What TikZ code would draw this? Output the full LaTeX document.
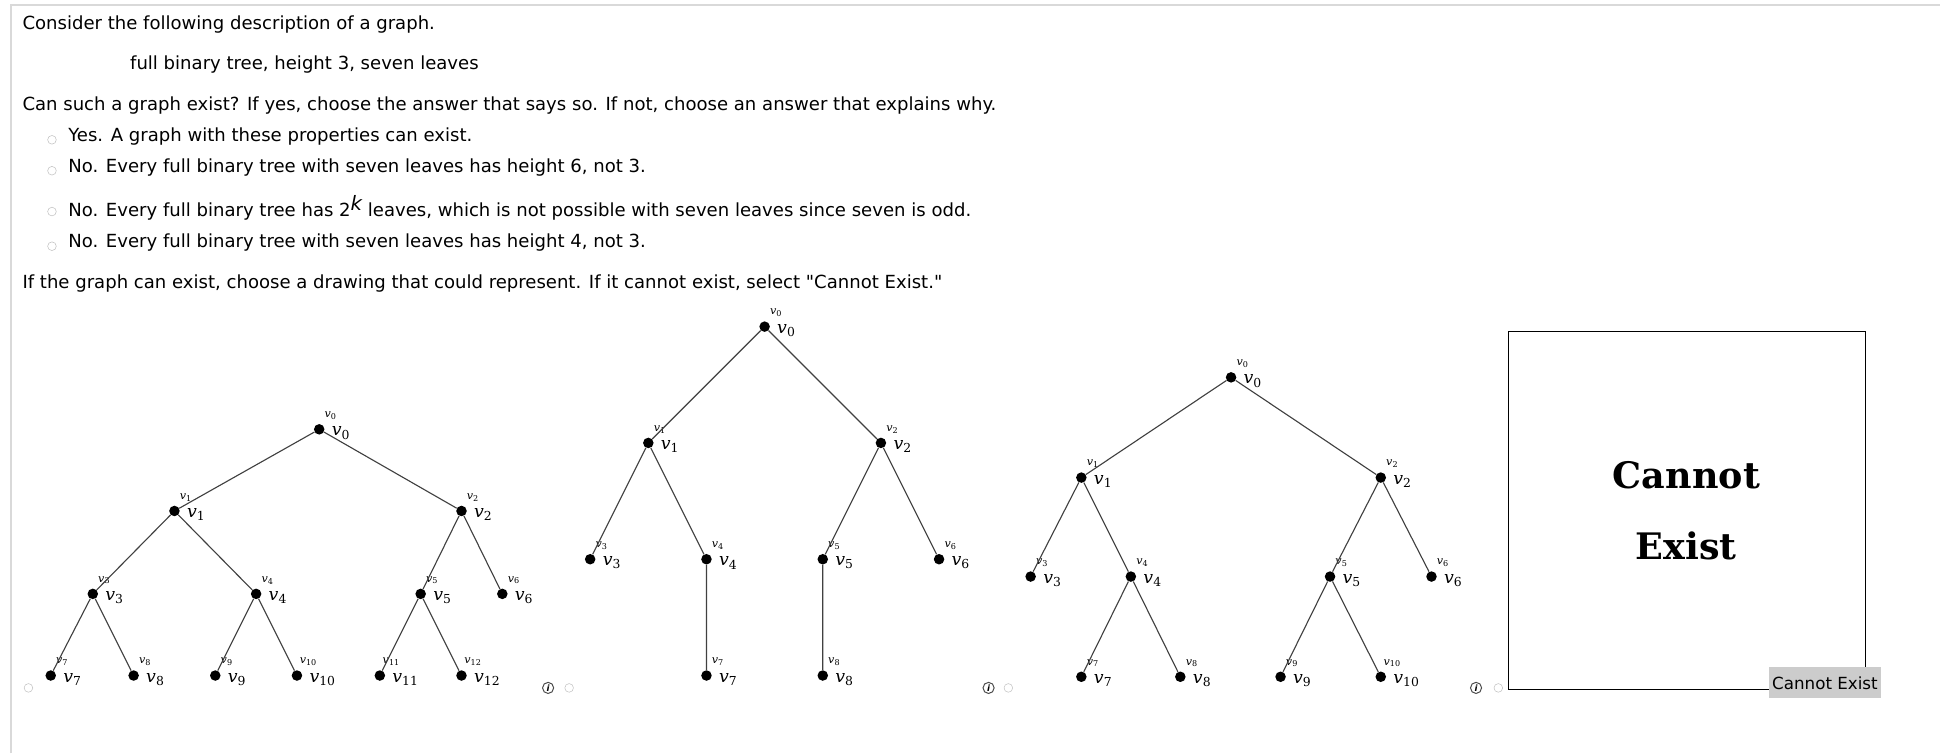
\documentclass[tikz,border=0pt]{standalone}
\usepackage{fontspec}
\setmainfont{DejaVu Sans}[Ligatures=TeXOff]
\newfontfamily\serifb{DejaVu Serif}
\begin{document}
\begin{tikzpicture}[x=1pt,y=-1pt,
  txt/.style={anchor=west,inner sep=0pt,font=\fontsize{14.6}{16}\selectfont},
  dot/.style={circle,fill=black,inner sep=0pt,minimum size=8.5pt},
  edge/.style={draw=black!75,line width=0.9pt},
  radio/.style={circle,draw=black!25,inner sep=0pt,minimum size=7pt},
  info/.style={circle,draw=black!70,line width=0.8pt,inner sep=0pt,minimum size=9pt,font=\fontsize{7}{7}\selectfont\itshape\bfseries}]
\useasboundingbox (0,0) rectangle (1568,609);
\fill[white] (0,0) rectangle (1568,609);
\draw[black!15,line width=1.5pt] (9,609) -- (9,4) -- (1568,4);
\node[txt] (t1) at (18,20) {Consider the following description of a graph.};
\node[txt] (t2) at (105,52) {full binary tree, height 3, seven leaves};
\node[txt] (t3) at (18,85) {Can such a graph exist? If yes, choose the answer that says so. If not, choose an answer that explains why.};
\node[radio] (r1) at (42,113) {}; \node[txt] (o1) at (55,110) {Yes. A graph with these properties can exist.};
\node[radio] (r2) at (42,138) {}; \node[txt] (o2) at (55,135) {No. Every full binary tree with seven leaves has height 6, not 3.};
\node[radio] (r3) at (42,171) {}; \node[txt] (o3) at (55,168) {No. Every full binary tree has 2\raisebox{0.6ex}{\fontsize{16}{16}\selectfont\itshape k} leaves, which is not possible with seven leaves since seven is odd.};
\node[radio] (r4) at (42,199) {}; \node[txt] (o4) at (55,196) {No. Every full binary tree with seven leaves has height 4, not 3.};
\node[txt] (t4) at (18,229) {If the graph can exist, choose a drawing that could represent. If it cannot exist, select "Cannot Exist."};
\newcommand{\vx}[3]{\node[dot] (#1) at (#2) {};
  \node[anchor=west,inner sep=0pt,font=\serifb\fontsize{14}{14}\selectfont] at ([xshift=10pt,yshift=-3pt]#1.center) {\textit{v}\raisebox{-0.35ex}{\fontsize{10}{10}\selectfont #3}};
  \node[inner sep=0pt,font=\serifb\fontsize{9}{9}\selectfont] at ([xshift=9pt,yshift=11pt]#1.center) {\textit{v}\raisebox{-0.3ex}{\fontsize{6.5}{6.5}\selectfont #3}};}
% tree 1
\vx{a0}{258,347}{0}\vx{a1}{141,413}{1}\vx{a2}{373,413}{2}
\vx{a3}{75,480}{3}\vx{a4}{207,480}{4}\vx{a5}{340,480}{5}\vx{a6}{406,480}{6}
\vx{a7}{41,546}{7}\vx{a8}{108,546}{8}\vx{a9}{174,546}{9}\vx{a10}{240,546}{10}\vx{a11}{307,546}{11}\vx{a12}{373,546}{12}
\draw[edge] (a0)--(a1) (a0)--(a2) (a1)--(a3) (a1)--(a4) (a2)--(a5) (a2)--(a6)
  (a3)--(a7) (a3)--(a8) (a4)--(a9) (a4)--(a10) (a5)--(a11) (a5)--(a12);
\node[radio] (ra) at (23,556) {};
% tree 2
\vx{b0}{618,264}{0}\vx{b1}{524,358}{1}\vx{b2}{712,358}{2}
\vx{b3}{477,452}{3}\vx{b4}{571,452}{4}\vx{b5}{665,452}{5}\vx{b6}{759,452}{6}
\vx{b7}{571,546}{7}\vx{b8}{665,546}{8}
\draw[edge] (b0)--(b1) (b0)--(b2) (b1)--(b3) (b1)--(b4) (b2)--(b5) (b2)--(b6) (b4)--(b7) (b5)--(b8);
\node[info] (ia) at (443,556) {i}; \node[radio] (rb) at (460,556) {};
% tree 3
\vx{c0}{995,305}{0}\vx{c1}{874,386}{1}\vx{c2}{1116,386}{2}
\vx{c3}{833,466}{3}\vx{c4}{914,466}{4}\vx{c5}{1075,466}{5}\vx{c6}{1157,466}{6}
\vx{c7}{874,547}{7}\vx{c8}{954,547}{8}\vx{c9}{1035,547}{9}\vx{c10}{1116,547}{10}
\draw[edge] (c0)--(c1) (c0)--(c2) (c1)--(c3) (c1)--(c4) (c2)--(c5) (c2)--(c6)
  (c4)--(c7) (c4)--(c8) (c5)--(c9) (c5)--(c10);
\node[info] (ib) at (799,556) {i}; \node[radio] (rc) at (815,556) {};
% cannot exist
\draw[black,line width=0.8pt] (1219,268) rectangle (1508,557);
\node[font=\serifb\bfseries\fontsize{29.5}{30}\selectfont] (ce1) at (1363,384) {Cannot};
\node[font=\serifb\bfseries\fontsize{29.5}{30}\selectfont] (ce2) at (1363,441) {Exist};
\node[fill=black!20,inner xsep=3pt,minimum height=25pt,font=\fontsize{13.5}{15}\selectfont] (btn) at (1475,552) {Cannot Exist};
\node[info] (ic) at (1193,556) {i}; \node[radio] (rd) at (1211,556) {};
\end{tikzpicture}
\end{document}
